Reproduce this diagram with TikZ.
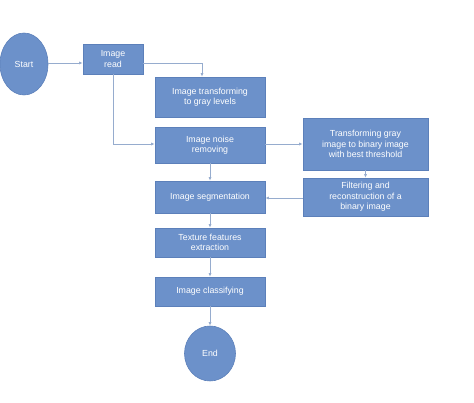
\documentclass[tikz,border=0pt]{standalone}
\usepackage{fontspec}
\setmainfont{Liberation Sans}
\usetikzlibrary{arrows.meta,shapes.geometric}
\definecolor{boxfill}{RGB}{108,145,202}
\definecolor{boxdraw}{RGB}{92,128,186}
\definecolor{linec}{RGB}{150,172,206}
\begin{document}
\begin{tikzpicture}[x=1pt,y=-1pt,
  procbox/.style={rectangle,fill=boxfill,draw=boxdraw,line width=0.6pt,text=white,align=center,
    font=\fontsize{8.8}{10.5}\selectfont,inner sep=0pt},
  term/.style={ellipse,fill=boxfill,draw=boxdraw,line width=0.6pt,text=white,inner sep=0pt,
    font=\fontsize{8.8}{10.5}\selectfont},
  conn/.style={draw=linec,line width=0.7pt,-{Latex[length=3.5pt,width=3pt]}}]
\useasboundingbox (0,0) rectangle (474,403);
\node[term,minimum width=48pt,minimum height=62pt] (start) at (24,64) {Start};
\node[procbox,minimum width=60pt,minimum height=30pt] (read) at (113,59) {Image\\read};
\node[procbox,minimum width=110pt,minimum height=40pt] (gray) at (210,97) {Image transforming\\to gray levels};
\node[procbox,minimum width=110pt,minimum height=36pt] (noise) at (210,145) {Image noise\\removing};
\node[procbox,minimum width=125pt,minimum height=52pt] (bin) at (365.5,144) {Transforming gray\\image to binary image\\with best threshold};
\node[procbox,minimum width=125pt,minimum height=38pt] (filt) at (365.5,197) {Filtering and\\reconstruction of a\\binary image};
\node[procbox,minimum width=110pt,minimum height=32pt] (seg) at (210,197) {Image segmentation};
\node[procbox,minimum width=110pt,minimum height=29pt] (tex) at (210,242.5) {Texture features\\extraction};
\node[procbox,minimum width=110pt,minimum height=29pt] (cls) at (210,291.5) {Image classifying};
\node[term,minimum width=51pt,minimum height=55pt] (end) at (210,353.5) {End};
\coordinate (c1) at (202,63);
\coordinate (c2) at (113,144);
\draw[conn] (start.east |- 0,63) -- (read.west |- 0,63);
\draw[conn] (read.east |- 0,63) -| (gray.north -| c1);
\draw[conn] (read.south) -- (c2) -- (noise.west |- c2);
\draw[conn] (noise.east |- 0,144) -- (bin.west |- 0,144);
\draw[conn] (bin.south) -- (filt.north);
\draw[conn] (filt.west |- 0,198) -- (seg.east |- 0,198);
\draw[conn] (noise.south) -- (seg.north);
\draw[conn] (seg.south) -- (tex.north);
\draw[conn] (tex.south) -- (cls.north);
\draw[conn] (cls.south) -- (end.north);
\end{tikzpicture}
\end{document}
